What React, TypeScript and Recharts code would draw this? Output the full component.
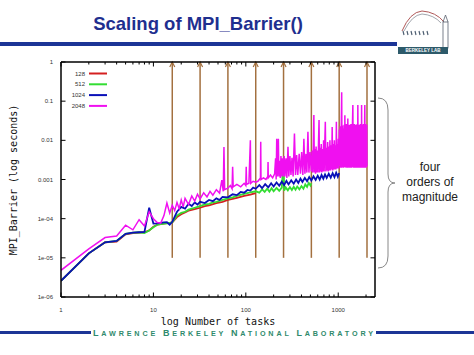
import { LineChart, Line, XAxis, YAxis, ReferenceLine, Legend } from 'recharts';

// axis ticks
const xMajor = [1, 10, 100, 1000];
const xMinor = [2, 3, 4, 5, 6, 7, 8, 9, 20, 30, 40, 50, 60, 70, 80, 90, 200, 300, 400, 500, 600, 700, 800, 900, 2000];
const yMajor = [1e-6, 1e-5, 1e-4, 1e-3, 0.01, 0.1, 1];
const yLabels = ['1e-06', '1e-05', '1e-04', '0.001', '0.01', '0.1', '1'];

// task counts marked by the brown arrows
const markerTasks = [16, 32, 64, 128, 256, 512, 1024, 2048];

// legend order as in the key
const seriesNames = ['128', '512', '1024', '2048'];

// [tasks, seconds]
const run128: [number, number][] = [
  [1, 2.6e-6], [2, 1.3e-5], [3, 2.5e-5], [4, 2.6e-5], [5, 4.0e-5], [6, 4.3e-5], [7, 4.4e-5], [8, 4.5e-5],
  [9, 5.0e-5], [10, 6.2e-5], [11, 7.0e-5], [12, 7.3e-5], [13, 7.5e-5], [14, 7.7e-5], [15, 7.8e-5], [16, 8.0e-5],
  [18, 1.1e-4], [20, 1.3e-4], [22, 1.45e-4], [24, 1.6e-4], [28, 1.75e-4], [32, 1.9e-4], [36, 2.1e-4], [40, 2.2e-4],
  [48, 2.5e-4], [56, 2.7e-4], [64, 3.0e-4], [72, 3.2e-4], [80, 3.4e-4], [96, 3.8e-4], [112, 4.1e-4], [128, 4.5e-4],
];

const run512: [number, number][] = [
  [1, 2.6e-6], [2, 1.3e-5], [3, 2.5e-5], [4, 2.7e-5], [5, 4.1e-5], [6, 4.4e-5], [7, 4.5e-5], [8, 4.3e-5],
  [9, 5.0e-5], [10, 6.0e-5], [11, 7.0e-5], [12, 7.3e-5], [13, 7.5e-5], [14, 7.6e-5], [15, 7.8e-5], [16, 8.0e-5],
  [18, 1.2e-4], [20, 1.4e-4], [22, 1.5e-4], [24, 1.7e-4], [26, 1.8e-4], [28, 1.9e-4], [30, 2.0e-4], [32, 2.1e-4],
  [36, 2.3e-4], [40, 2.4e-4], [44, 2.6e-4], [48, 2.7e-4], [56, 3.0e-4], [64, 3.3e-4], [72, 3.5e-4], [80, 3.8e-4],
  [96, 4.3e-4], [112, 4.7e-4], [128, 5.0e-4], [140, 4.6e-4], [150, 5.6e-4], [160, 4.8e-4], [170, 5.8e-4],
  [180, 4.9e-4], [190, 6.0e-4], [200, 5.0e-4], [215, 6.1e-4], [230, 5.1e-4], [245, 6.2e-4], [256, 3.2e-3],
  [260, 5.2e-4], [270, 6.3e-4], [285, 5.3e-4], [300, 6.4e-4], [315, 5.4e-4], [330, 6.5e-4], [345, 5.5e-4],
  [360, 6.6e-4], [380, 5.6e-4], [400, 6.8e-4], [420, 5.8e-4], [440, 7.5e-4], [460, 6.5e-4], [480, 8.2e-4],
  [500, 7.0e-4], [512, 8.0e-4],
];

const run1024: [number, number][] = [
  [1, 2.6e-6], [2, 1.3e-5], [3, 2.5e-5], [4, 2.7e-5], [5, 4.1e-5], [6, 4.4e-5], [7, 4.5e-5], [8, 4.6e-5],
  [9, 1.9e-4], [10, 7.5e-5], [11, 7.6e-5], [12, 7.8e-5], [13, 8.0e-5], [14, 8.1e-5], [15, 7.0e-5], [16, 8.3e-5],
  [18, 1.5e-4], [20, 2.0e-4], [22, 1.8e-4], [24, 2.4e-4], [26, 2.1e-4], [28, 2.6e-4], [30, 2.3e-4], [32, 2.7e-4],
  [36, 2.5e-4], [40, 3.0e-4], [44, 2.8e-4], [48, 3.3e-4], [52, 3.0e-4], [56, 3.6e-4], [64, 3.5e-4], [72, 4.2e-4],
  [80, 4.0e-4], [88, 4.8e-4], [96, 4.6e-4], [104, 5.4e-4], [112, 5.2e-4], [120, 6.2e-4], [128, 5.8e-4],
  [140, 7.2e-4], [150, 6.0e-4], [162, 7.6e-4], [175, 6.3e-4], [188, 8.0e-4], [200, 6.6e-4], [215, 8.4e-4],
  [230, 6.9e-4], [245, 8.8e-4], [260, 7.2e-4], [275, 9.2e-4], [290, 7.5e-4], [310, 9.5e-4], [330, 7.8e-4],
  [350, 1.0e-3], [370, 8.2e-4], [390, 1.05e-3], [410, 8.6e-4], [435, 1.1e-3], [460, 9.0e-4], [485, 1.15e-3],
  [512, 9.4e-4], [540, 1.2e-3], [570, 9.8e-4], [600, 1.25e-3], [630, 1.0e-3], [660, 1.3e-3], [690, 1.05e-3],
  [720, 1.35e-3], [750, 1.1e-3], [790, 1.4e-3], [830, 1.12e-3], [870, 1.45e-3], [910, 1.15e-3], [950, 1.5e-3],
  [990, 1.18e-3], [1024, 1.45e-3],
];

const run2048: [number, number][] = [
  [1, 4.8e-6], [2, 1.7e-5], [3, 3.3e-5], [4, 3.6e-5], [5, 6.8e-5], [6, 5.2e-5], [7, 9.4e-5], [8, 6.5e-5],
  [9, 1.5e-4], [10, 1.0e-4], [11, 8.0e-5], [12, 7.7e-5], [13, 1.2e-4], [14, 2.5e-4], [15, 1.4e-4], [16, 2.2e-4],
  [17, 1.6e-4], [18, 2.6e-4], [19, 1.8e-4], [20, 3.0e-4], [21, 2.0e-4], [22, 3.3e-4], [24, 2.3e-4], [26, 3.8e-4],
  [28, 2.8e-4], [30, 4.2e-4], [32, 3.2e-4], [35, 4.6e-4], [38, 3.6e-4], [41, 5.0e-4], [44, 4.0e-4], [48, 5.5e-4],
  [52, 4.5e-4], [55, 9.6e-4], [57, 5.0e-4], [58, 6.8e-3], [59, 5.5e-4], [64, 6.0e-4], [68, 7.0e-4], [71, 5.8e-4],
  [72, 2.1e-3], [73, 6.5e-4], [80, 7.5e-4], [88, 6.5e-4], [96, 8.0e-4], [100, 7.0e-4], [101, 2.1e-3], [102, 7.5e-4],
  [108, 8.0e-4], [112, 1.0e-2], [113, 8.0e-4], [120, 9.0e-4], [128, 8.5e-4], [135, 9.0e-4], [144, 1.1e-3],
  [145, 9.2e-3], [146, 1.0e-3], [155, 1.1e-3], [165, 1.0e-3], [173, 1.2e-3], [174, 2.8e-3], [175, 1.1e-3],
  [185, 1.3e-3], [195, 1.1e-3], [205, 1.4e-3], [210, 3.5e-3], [213, 1.0e-3], [216, 1.1e-2], [219, 1.2e-3],
  [222, 4.0e-3], [225, 1.1e-2], [228, 1.2e-3], [232, 3.0e-3], [236, 1.1e-3], [240, 4.0e-3], [245, 1.2e-3],
  [250, 3.5e-3], [256, 1.2e-3], [260, 4.0e-3], [265, 1.2e-3], [272, 3.5e-3], [278, 1.1e-3], [286, 6.8e-3],
  [292, 1.2e-3], [300, 4.0e-3], [308, 1.3e-3], [316, 3.6e-3], [325, 1.2e-3], [336, 1.5e-2], [345, 1.3e-3],
  [355, 4.2e-3], [365, 1.3e-3], [378, 4.5e-3], [390, 1.4e-3], [402, 5.0e-3], [414, 1.3e-3], [425, 1.1e-2],
  [436, 1.4e-3], [448, 4.5e-3], [458, 1.5e-3], [470, 1.65e-2], [482, 1.5e-3], [496, 5.0e-3], [512, 1.6e-3],
  [521, 5.5e-3], [530, 1.5e-3], [538, 8.0e-3], [545, 4.4e-2], [552, 1.5e-3], [560, 6.0e-3], [568, 1.4e-3],
  [576, 7.0e-3], [585, 1.5e-3], [594, 5.5e-3], [603, 1.5e-3], [612, 9.0e-3], [620, 3.3e-2], [628, 1.5e-3],
  [637, 6.5e-3], [646, 1.6e-3], [655, 8.0e-3], [664, 1.5e-3], [674, 6.0e-3], [684, 1.6e-3], [694, 1.0e-2],
  [704, 1.6e-3], [714, 7.0e-3], [725, 3.0e-2], [735, 1.6e-3], [746, 6.5e-3], [757, 1.7e-3], [768, 9.0e-3],
  [779, 1.6e-3], [790, 7.0e-3], [801, 1.7e-3], [813, 1.0e-2], [825, 1.7e-3], [837, 7.5e-3], [849, 1.8e-3],
  [860, 2.2e-2], [872, 1.7e-3], [884, 8.0e-3], [896, 1.8e-3], [908, 1.0e-2], [920, 1.8e-3], [932, 7.5e-3],
  [944, 1.8e-3], [955, 3.0e-2], [966, 1.9e-3], [978, 8.0e-3], [990, 1.9e-3], [1002, 1.1e-2], [1014, 1.9e-3],
  [1024, 9.0e-3], [1030, 1.9e-2], [1042, 2.2e-3], [1054, 2.3e-2], [1066, 2.0e-3], [1078, 2.1e-2], [1090, 0.17],
  [1100, 2.0e-3], [1112, 2.4e-2], [1124, 2.1e-3], [1136, 2.0e-2], [1148, 2.0e-3], [1160, 2.5e-2], [1172, 2.2e-3],
  [1180, 4.4e-2], [1190, 2.1e-3], [1202, 2.2e-2], [1214, 2.0e-3], [1226, 2.6e-2], [1238, 2.1e-3], [1250, 2.3e-2],
  [1262, 2.0e-3], [1270, 3.6e-2], [1282, 2.0e-3], [1295, 2.3e-2], [1308, 2.1e-3], [1321, 2.5e-2], [1334, 2.0e-3],
  [1347, 2.2e-2], [1360, 2.1e-3], [1373, 2.6e-2], [1386, 2.0e-3], [1399, 2.4e-2], [1412, 2.1e-3], [1425, 2.5e-2],
  [1440, 8.0e-2], [1453, 2.0e-3], [1467, 2.3e-2], [1481, 2.1e-3], [1495, 2.6e-2], [1509, 2.0e-3], [1523, 2.4e-2],
  [1537, 2.1e-3], [1551, 2.5e-2], [1565, 2.0e-3], [1579, 2.2e-2], [1593, 2.1e-3], [1607, 2.6e-2], [1620, 2.0e-3],
  [1630, 8.0e-2], [1644, 2.1e-3], [1658, 2.4e-2], [1672, 2.0e-3], [1686, 2.5e-2], [1700, 2.1e-3], [1714, 2.3e-2],
  [1728, 2.0e-3], [1742, 2.6e-2], [1756, 2.1e-3], [1770, 2.4e-2], [1780, 2.0e-3], [1790, 8.0e-2], [1803, 2.1e-3],
  [1817, 2.5e-2], [1831, 2.0e-3], [1845, 2.3e-2], [1859, 2.1e-3], [1873, 2.6e-2], [1887, 2.0e-3], [1901, 2.4e-2],
  [1915, 2.1e-3], [1928, 2.5e-2], [1940, 8.0e-2], [1952, 2.0e-3], [1964, 2.3e-2], [1976, 2.1e-3], [1988, 2.6e-2],
  [2000, 2.0e-3], [2012, 2.4e-2], [2024, 2.1e-3], [2036, 2.5e-2], [2048, 2.2e-3],
];

const toRows = (pts: [number, number][]) => pts.map(([n, t]) => ({ n, t }));

const tickFont = 'Liberation Sans, Arial, sans-serif';
const monoFont = 'DejaVu Sans Mono, monospace';
const axisLineStyle = { stroke: '#000', strokeWidth: 1.5 };

const XTick = (props: any) => {
  const { x, y, payload, top } = props;
  const major = xMajor.includes(payload.value);
  const len = major ? 4.5 : 2.5;
  const dir = top ? 1 : -1;
  return (
    <g>
      <line x1={x} y1={y} x2={x} y2={y + dir * len} stroke="#000" strokeWidth={1} />
      {!top && major && (
        <text x={x} y={y + 15} textAnchor="middle" fontSize={6} fill="#333" fontFamily={tickFont}>
          {payload.value}
        </text>
      )}
    </g>
  );
};

const YTick = (props: any) => {
  const { x, y, payload, right } = props;
  const dir = right ? -1 : 1;
  const idx = yMajor.indexOf(payload.value);
  return (
    <g>
      <line x1={x} y1={y} x2={x + dir * 4.5} y2={y} stroke="#000" strokeWidth={1} />
      {!right && (
        <text x={x - 8} y={y + 2} textAnchor="end" fontSize={6} fill="#333" fontFamily={tickFont}>
          {yLabels[idx]}
        </text>
      )}
    </g>
  );
};

const ArrowLine = (props: any) => {
  const { x1, y1, y2 } = props;
  const top = Math.min(y1, y2);
  const bot = Math.max(y1, y2);
  return (
    <g>
      <line x1={x1} y1={bot} x2={x1} y2={top} stroke="#a3703f" strokeWidth={1.5} />
      <path d={`M${x1 - 2.5},${top + 5} L${x1},${top} L${x1 + 2.5},${top + 5}`} fill="none" stroke="#a3703f" strokeWidth={1.2} />
    </g>
  );
};

const LegendBox = ({ payload }: any) => {
  const items = [...(payload || [])].sort(
    (a: any, b: any) => seriesNames.indexOf(String(a.value)) - seriesNames.indexOf(String(b.value))
  );
  return (
    <svg width={50} height={46} style={{ display: 'block' }}>
      {items.map((e: any, i: number) => (
        <g key={e.value}>
          <text x={25} y={9.5 + i * 10.8} textAnchor="end" fontSize={6} fill="#333" fontFamily={tickFont}>
            {e.value}
          </text>
          <line x1={29} x2={47} y1={7.5 + i * 10.8} y2={7.5 + i * 10.8} stroke={e.color} strokeWidth={2} />
        </g>
      ))}
    </svg>
  );
};

const App = () => {
  return (
    <div style={{ position: 'absolute', left: 0, top: 0, width: 474, height: 355, background: '#fff', overflow: 'hidden' }}>
      <LineChart width={474} height={355} margin={{ top: 61, left: 60, right: 98, bottom: 57 }}>
        <XAxis
          dataKey="n"
          type="number"
          scale="log"
          domain={[1, 2500]}
          allowDataOverflow
          ticks={[...xMajor, ...xMinor]}
          interval={0}
          height={1}
          tickSize={0}
          tickMargin={0}
          tickLine={false}
          axisLine={axisLineStyle}
          tick={(p: any) => <XTick {...p} />}
        />
        <XAxis
          xAxisId="top"
          orientation="top"
          dataKey="n"
          type="number"
          scale="log"
          domain={[1, 2500]}
          allowDataOverflow
          ticks={[...xMajor, ...xMinor]}
          interval={0}
          height={1}
          tickSize={0}
          tickMargin={0}
          tickLine={false}
          axisLine={axisLineStyle}
          tick={(p: any) => <XTick {...p} top />}
        />
        <YAxis
          type="number"
          scale="log"
          domain={[1e-6, 1]}
          allowDataOverflow
          ticks={yMajor}
          interval={0}
          width={1}
          tickSize={0}
          tickMargin={0}
          tickLine={false}
          axisLine={axisLineStyle}
          tick={(p: any) => <YTick {...p} />}
        />
        <YAxis
          yAxisId="right"
          orientation="right"
          type="number"
          scale="log"
          domain={[1e-6, 1]}
          allowDataOverflow
          ticks={yMajor}
          interval={0}
          width={1}
          tickSize={0}
          tickMargin={0}
          tickLine={false}
          axisLine={axisLineStyle}
          tick={(p: any) => <YTick {...p} right />}
        />
        {markerTasks.map((n) => (
          <ReferenceLine
            key={n}
            segment={[{ x: n, y: 1e-5 }, { x: n, y: 1 }]}
            shape={(p: any) => <ArrowLine {...p} />}
          />
        ))}
        <Line data={toRows(run128)} dataKey="t" name="128" stroke="#d42020" strokeWidth={1.8} dot={false} isAnimationActive={false} />
        <Line data={toRows(run512)} dataKey="t" name="512" stroke="#33dd33" strokeWidth={1.8} dot={false} isAnimationActive={false} />
        <Line data={toRows(run1024)} dataKey="t" name="1024" stroke="#0a10b8" strokeWidth={1.8} dot={false} isAnimationActive={false} />
        <Line data={toRows(run2048)} dataKey="t" name="2048" stroke="#f010f0" strokeWidth={1.5} dot={false} isAnimationActive={false} />
        <Legend
          layout="vertical"
          align="center"
          verticalAlign="middle"
          content={(p: any) => <LegendBox {...p} />}
          wrapperStyle={{ left: 60, top: 66, width: 50, height: 46 }}
        />
      </LineChart>

      <svg width={474} height={355} style={{ position: 'absolute', left: 0, top: 0, pointerEvents: 'none' }}>
        {/* slide header */}
        <text x={198} y={30} textAnchor="middle" fontSize={18.5} fontWeight="bold" fill="#1f2f8f" fontFamily="Liberation Sans, Arial, sans-serif">
          Scaling of MPI_Barrier()
        </text>
        <rect x={0} y={42} width={397} height={4} fill="#1c3596" />
        {/* logo */}
        <path d="M402,31 Q410,12 422,11 Q436,12 444,22" fill="none" stroke="#b05858" strokeWidth={1} />
        <path d="M404,31 Q412,15 422,14 Q434,15 441,23" fill="none" stroke="#8a8f98" strokeWidth={0.8} />
        {[403, 407, 411, 415, 419, 423, 427].map((x) => (
          <line key={x} x1={x} y1={31} x2={x + 1} y2={35} stroke="#4d5d70" strokeWidth={1.2} />
        ))}
        <rect x={443} y={22} width={5} height={26} fill="none" stroke="#5a6270" strokeWidth={0.8} />
        <path d="M443,22 L445.5,15 L448,22" fill="none" stroke="#5a6270" strokeWidth={0.8} />
        <rect x={398} y={47} width={50} height={7} fill="#2d5a6a" />
        <text x={423} y={52.4} textAnchor="middle" fontSize={4.5} fill="#fff" fontWeight="bold" fontFamily="Liberation Sans, Arial, sans-serif">
          BERKELEY LAB
        </text>

        {/* axis titles */}
        <text transform="translate(17,180) rotate(-90)" textAnchor="middle" fontSize={10} fill="#111" fontFamily={monoFont}>
          MPI_Barrier (log seconds)
        </text>
        <text x={218} y={325} textAnchor="middle" fontSize={10} fill="#111" fontFamily={monoFont}>
          log Number of tasks
        </text>

        {/* brace note */}
        <path d="M378,98 Q388,98 388,110 L388,174 Q388,183 395,183 Q388,183 388,192 L388,256 Q388,268 378,268" fill="none" stroke="#888" strokeWidth={1} />
        <g fontSize={12} fill="#222" textAnchor="middle" fontFamily="Liberation Sans, Arial, sans-serif">
          <text x={430} y={171}>four</text>
          <text x={430} y={186}>orders of</text>
          <text x={430} y={201}>magnitude</text>
        </g>

        {/* footer */}
        <rect x={0} y={331} width={91} height={3} fill="#1c3596" />
        <rect x={376} y={331} width={98} height={3} fill="#1c3596" />
        <text x={93} y={336} fontSize={7.2} fontWeight="bold" fill="#2f8a6c" textLength={280} lengthAdjust="spacing" fontFamily="Liberation Sans, Arial, sans-serif">
          <tspan fontSize={9}>L</tspan>AWRENCE <tspan fontSize={9}>B</tspan>ERKELEY <tspan fontSize={9}>N</tspan>ATIONAL <tspan fontSize={9}>L</tspan>ABORATORY
        </text>
      </svg>
    </div>
  );
};

export default App;
